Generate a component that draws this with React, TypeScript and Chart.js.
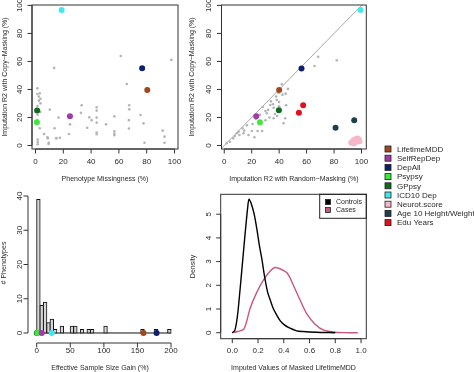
import React, { useEffect, useRef } from "react";
import { Chart, registerables } from "chart.js";
Chart.register(...registerables);

const FONT = '"Liberation Sans", Arial, Helvetica, sans-serif';
const TXT = "#2a2a2a";
const AXC = "#333333";
const GRAY = "#b4b4b4";

// ---------- key (legend) ----------
const keyNames = ["LifetimeMDD", "SelfRepDep", "DepAll", "Psypsy", "GPpsy", "ICD10 Dep", "Neurot.score", "Age 10 Height/Weight", "Edu Years"];
const keyColors = ["#a3461c", "#a33aa8", "#0f1f6e", "#3fe83f", "#0d6b1c", "#44e6f0", "#f5b7c9", "#203f4e", "#e0101f"];

// ---------- panel 1: missingness vs copy-masking R2 ----------
const p1Gray: [number, number][] = [
  [61.3, 63.9], [97.7, 61.1], [13.4, 55.4], [65.7, 43.9], [1.4, 40.8], [1.4, 36.8], [3.1, 37.3], [2.4, 34.9],
  [3.6, 33.4], [2.4, 32], [3.6, 30.1], [1.4, 28.2], [10.3, 25.6], [33.2, 28.7], [44, 27.3], [44, 24.9],
  [32.7, 23.3], [67.4, 28.7], [67.4, 25.8], [16.6, 19.9], [38.7, 20.1], [40.4, 18.1], [44, 19.9], [56.7, 20.8],
  [75.5, 21.8], [24.8, 15.1], [44, 16.3], [50.8, 15.1], [67.2, 18.1], [77.7, 15.8], [3.1, 12.3], [13.7, 12.3],
  [37.2, 12.7], [67.2, 12.1], [91.5, 10.6], [6.2, 8.2], [24.1, 8.2], [44, 9.3], [44, 8], [56.7, 10.2],
  [56.7, 8.5], [56.7, 7.3], [92.8, 6.3], [8.6, 5.8], [15.1, 5.3], [17.6, 5.5], [1.6, 4.3], [1.6, 2.6],
  [1.6, 0.9], [9.4, 1.1], [78.4, 2], [92.8, 2], [8.9, 5.1], [9.6, 2], [14.9, 5.1], [1.5, 22], [1.5, 18], [3.5, 24],
];
const p1Key = ["LifetimeMDD", "SelfRepDep", "DepAll", "Psypsy", "GPpsy", "ICD10 Dep"];
const p1KeyX = [80.4, 24.8, 76.7, 1.0, 1.2, 18.8];
const p1KeyY = [39.6, 20.9, 55.1, 16.6, 24.9, 96.8];

// ---------- panel 2: random-masking vs copy-masking R2 ----------
const p2Gray: [number, number][] = [
  [68.4, 63.4], [82, 60.9], [65.8, 56.8], [42, 43.7], [46.4, 40.4], [44.7, 37], [42.5, 36.3], [37.8, 34.9],
  [38.3, 32.5], [40, 31], [33.5, 28.9], [45.1, 28.7], [35.5, 29.5], [32, 25.4], [30, 24.6], [36, 27],
  [37, 22.5], [38.5, 21], [36, 19.5], [44.4, 19.4], [43.2, 15.9], [20.6, 15.4], [16.5, 14.4], [13.3, 12.3],
  [14.5, 10.6], [10.4, 9.9], [11.1, 7.5], [17.7, 7.5], [20.1, 10.4], [24.3, 10.4], [27.6, 10.4], [22, 5.9],
  [14, 8.7], [9.2, 8.7], [7.7, 6.8], [6.5, 5.1], [4.1, 2.7], [1.7, 1.6], [28, 27.5], [31, 23], [26, 22],
  [23, 19], [40, 28], [34, 31.5], [39.5, 37.5], [30, 18], [25, 16], [33, 20],
];
const p2Key = ["LifetimeMDD", "SelfRepDep", "DepAll", "Psypsy", "GPpsy", "ICD10 Dep",
  "Neurot.score", "Neurot.score", "Neurot.score", "Neurot.score", "Neurot.score", "Neurot.score", "Neurot.score", "Neurot.score",
  "Age 10 Height/Weight", "Age 10 Height/Weight", "Edu Years", "Edu Years"];
const p2KeyX = [40, 23.3, 56.3, 26, 39.8, 99.3, 92.5, 94, 95.5, 97, 98, 96, 94.5, 98.5, 94.7, 81.1, 57.5, 54.4];
const p2KeyY = [39.6, 20.9, 54.9, 16.6, 25.1, 96.8, 2, 3.5, 4.5, 5, 4.5, 2.5, 1.5, 3, 18, 12.7, 28.7, 23.4];

// ---------- panel 3: histogram of effective sample size gain ----------
const histBinStart = [0, 5, 10, 15, 20, 25, 30, 35, 40, 45, 50, 55, 60, 65, 70, 75, 80, 85, 90, 95,
  100, 105, 110, 115, 120, 125, 130, 135, 140, 145, 150, 155, 160, 165, 170, 175, 180, 185, 190, 195];
const histCounts = [39, 8, 9, 3, 4, 1, 0, 2, 0, 0, 2, 2, 0, 1, 0, 1, 1, 0, 0, 0,
  2, 0, 0, 0, 0, 0, 0, 0, 0, 0, 0, 1, 0, 0, 0, 1, 0, 0, 0, 1];
const p3Key = ["GPpsy", "Psypsy", "SelfRepDep", "ICD10 Dep", "LifetimeMDD", "DepAll"];
const p3KeyX = [0.2, 1.2, 7.5, 22.5, 159, 178.5];

// ---------- panel 4: density of imputed values ----------
const ctrlX = [0, 0.02, 0.04, 0.06, 0.08, 0.1, 0.12, 0.13, 0.15, 0.17, 0.19, 0.21, 0.23, 0.25, 0.275, 0.3, 0.32, 0.35, 0.373, 0.4, 0.44, 0.5, 0.55, 0.65, 0.8];
const ctrlY = [0, 0.1, 0.7, 1.8, 3.0, 4.2, 5.3, 5.63, 5.4, 5.0, 4.4, 3.7, 3.1, 2.4, 1.7, 1.3, 1.0, 0.7, 0.5, 0.35, 0.21, 0.08, 0.05, 0.02, 0.0];
const caseX = [0, 0.04, 0.09, 0.14, 0.19, 0.245, 0.295, 0.33, 0.36, 0.4, 0.425, 0.45, 0.477, 0.53, 0.58, 0.645, 0.71, 0.8, 0.9, 0.975];
const caseY = [0, 0.05, 0.15, 1.05, 1.7, 2.25, 2.6, 2.75, 2.72, 2.62, 2.53, 2.3, 1.97, 1.34, 0.78, 0.35, 0.11, 0.02, 0.0, 0.0];
const densLegend = ["Controls", "Cases"];
const densColors = ["#000000", "#c8587a"];

// ---------- tick labels ----------
const pctTicks = [0, 20, 40, 60, 80, 100];
const histXTicks = [0, 50, 100, 150, 200];
const histYTicks = [0, 10, 20, 30, 40];
const densXTicks = [0, 0.2, 0.4, 0.6, 0.8, 1.0];
const densXLabels = ["0.0", "0.2", "0.4", "0.6", "0.8", "1.0"];
const densYTicks = [0, 1, 2, 3, 4, 5];

const colorOf = (n: string) => keyColors[keyNames.indexOf(n)];

type AxCfg = {
  id: string; box: boolean;
  xTicks: number[]; xLabels: string[]; yTicks: number[]; yLabels: string[];
  xLabelY: number; yLabelX: number; xTitle: string; xTitleY: number; yTitle: string; yTitleX: number;
  xTitleCx?: number; yTitleCy?: number;
};

function rAxes(cfg: AxCfg) {
  return {
    id: cfg.id,
    afterDraw(chart: any) {
      const ctx = chart.ctx as CanvasRenderingContext2D;
      const xs = chart.scales.x, ys = chart.scales.y;
      const a = chart.chartArea;
      const TL = 4.5;
      ctx.save();
      ctx.strokeStyle = AXC;
      ctx.lineWidth = 1;
      if (cfg.box) ctx.strokeRect(a.left, a.top, a.right - a.left, a.bottom - a.top);
      const xp = cfg.xTicks.map((v) => xs.getPixelForValue(v));
      ctx.beginPath();
      ctx.moveTo(xp[0], a.bottom); ctx.lineTo(xp[xp.length - 1], a.bottom);
      xp.forEach((p) => { ctx.moveTo(p, a.bottom); ctx.lineTo(p, a.bottom + TL); });
      const yp = cfg.yTicks.map((v) => ys.getPixelForValue(v));
      ctx.moveTo(a.left, yp[0]); ctx.lineTo(a.left, yp[yp.length - 1]);
      yp.forEach((p) => { ctx.moveTo(a.left, p); ctx.lineTo(a.left - TL, p); });
      ctx.stroke();
      ctx.fillStyle = TXT;
      ctx.font = `8px ${FONT}`;
      ctx.textAlign = "center";
      ctx.textBaseline = "middle";
      xp.forEach((p, i) => ctx.fillText(cfg.xLabels[i], p, cfg.xLabelY));
      yp.forEach((p, i) => {
        ctx.save(); ctx.translate(cfg.yLabelX, p); ctx.rotate(-Math.PI / 2);
        ctx.fillText(cfg.yLabels[i], 0, 0); ctx.restore();
      });
      ctx.font = `7px ${FONT}`;
      const cx = cfg.xTitleCx ?? (a.left + a.right) / 2;
      ctx.fillText(cfg.xTitle, cx, cfg.xTitleY);
      const cy = cfg.yTitleCy ?? (a.top + a.bottom) / 2;
      ctx.save(); ctx.translate(cfg.yTitleX, cy); ctx.rotate(-Math.PI / 2);
      ctx.fillText(cfg.yTitle, 0, 0); ctx.restore();
      ctx.restore();
    },
  };
}

const keyLegend = {
  id: "keyLegend",
  afterDraw(chart: any) {
    const ctx = chart.ctx as CanvasRenderingContext2D;
    ctx.save();
    ctx.font = `8px ${FONT}`;
    ctx.textAlign = "left";
    ctx.textBaseline = "middle";
    keyNames.forEach((n, i) => {
      const y = 149 + i * 9.2;
      ctx.fillStyle = keyColors[i];
      ctx.fillRect(385, y - 3, 6, 6);
      ctx.strokeStyle = "#222";
      ctx.lineWidth = 0.8;
      ctx.strokeRect(385, y - 3, 6, 6);
      ctx.fillStyle = TXT;
      ctx.fillText(n, 397, y + 0.5);
    });
    ctx.restore();
  },
};

const densLegendPlugin = {
  id: "densLegend",
  afterDraw(chart: any) {
    const ctx = chart.ctx as CanvasRenderingContext2D;
    const a = chart.chartArea;
    ctx.save();
    ctx.strokeStyle = "#222";
    ctx.lineWidth = 1;
    const lx = 319.7;
    ctx.strokeRect(lx, a.top, a.right - lx, 24);
    ctx.font = `7px ${FONT}`;
    ctx.textAlign = "left";
    ctx.textBaseline = "middle";
    densLegend.forEach((n, i) => {
      const y = 202 + i * 8;
      ctx.fillStyle = densColors[i];
      ctx.fillRect(325.5, y - 2.5, 5, 5);
      ctx.strokeStyle = "#222";
      ctx.lineWidth = 0.8;
      ctx.strokeRect(325.5, y - 2.5, 5, 5);
      ctx.fillStyle = TXT;
      ctx.fillText(n, 336, y + 0.5);
    });
    ctx.restore();
  },
};

const W = 474, H = 372;
function pad(l: number, t: number, r: number, b: number) {
  return { left: l, top: t, right: W - r, bottom: H - b };
}
function baseOpts(padding: any, x: [number, number], y: [number, number]) {
  return {
    responsive: false,
    animation: false,
    devicePixelRatio: 1,
    events: [],
    layout: { padding, autoPadding: false },
    plugins: { legend: { display: false }, tooltip: { enabled: false } },
    scales: {
      x: { type: "linear", display: false, min: x[0], max: x[1], offset: false, grid: { offset: false } },
      y: { type: "linear", display: false, min: y[0], max: y[1], offset: false },
    },
  } as any;
}

const pctLabels = pctTicks.map(String);

function makeConfigs(): any[] {
  const c1 = {
    type: "scatter",
    data: {
      datasets: [
        {
          data: p1KeyX.map((x, i) => ({ x, y: p1KeyY[i] })),
          pointBackgroundColor: p1Key.map(colorOf), pointBorderWidth: 0, pointRadius: 3, order: 0,
        },
        { data: p1Gray.map(([x, y]) => ({ x, y })), pointBackgroundColor: GRAY, pointBorderWidth: 0, pointRadius: 1.3, order: 1 },
      ],
    },
    options: baseOpts(pad(32, 5, 178, 149), [-2.5, 102.5], [-2.5, 100.3]),
    plugins: [rAxes({
      id: "ax1", box: true, xTicks: pctTicks, xLabels: pctLabels, yTicks: pctTicks, yLabels: pctLabels,
      xLabelY: 162, yLabelX: 20, xTitle: "Phenotype Missingness (%)", xTitleY: 179,
      yTitle: "Imputation R2 with Copy\u2212Masking (%)", yTitleX: 5,
    })],
  };
  const c2 = {
    type: "scatter",
    data: {
      datasets: [
        {
          data: p2KeyX.map((x, i) => ({ x, y: p2KeyY[i] })),
          pointBackgroundColor: p2Key.map(colorOf), pointBorderWidth: 0, pointRadius: 3, order: 0,
        },
        { data: p2Gray.map(([x, y]) => ({ x, y })), pointBackgroundColor: GRAY, pointBorderWidth: 0, pointRadius: 1.3, order: 1 },
        {
          data: [{ x: -2, y: -2 }, { x: 100.3, y: 100.3 }], showLine: true, pointRadius: 0,
          borderColor: "#a8a8a8", borderWidth: 1, order: 2,
        },
      ],
    },
    options: baseOpts(pad(221.5, 5, 366.3, 149), [-2, 103.5], [-2.5, 100.3]),
    plugins: [rAxes({
      id: "ax2", box: true, xTicks: pctTicks, xLabels: pctLabels, yTicks: pctTicks, yLabels: pctLabels,
      xLabelY: 162, yLabelX: 209, xTitle: "Imputation R2 with Random\u2212Masking (%)", xTitleY: 179,
      yTitle: "Imputation R2 with Copy\u2212Masking (%)", yTitleX: 192,
    }), keyLegend],
  };
  const c3 = {
    type: "scatter",
    data: {
      datasets: [
        {
          type: "scatter",
          data: p3KeyX.map((x) => ({ x, y: 0 })),
          pointBackgroundColor: p3Key.map(colorOf), pointBorderWidth: 0, pointRadius: 3, order: 0,
        },
        {
          type: "bar",
          data: histBinStart.map((s, i) => ({ x: s + 2.5, y: histCounts[i] })),
          backgroundColor: "#d6d6d6", borderColor: "#111", borderWidth: 1, borderSkipped: false,
          barPercentage: 1, categoryPercentage: 1, inflateAmount: 0.5, order: 1,
        },
        {
          type: "scatter",
          data: [{ x: 0, y: 0 }, { x: 200, y: 0 }], showLine: true, pointRadius: 0,
          borderColor: "#111", borderWidth: 1, order: 2,
        },
      ],
    },
    options: baseOpts(pad(28, 194, 176, 343), [-12.96, 207.4], [-2.92, 40.58]),
    plugins: [rAxes({
      id: "ax3", box: false, xTicks: histXTicks, xLabels: histXTicks.map(String), yTicks: histYTicks, yLabels: histYTicks.map(String),
      xLabelY: 351, yLabelX: 20, xTitle: "Effective Sample Size Gain (%)", xTitleY: 368, xTitleCx: 100,
      yTitle: "# Phenotypes", yTitleX: 4, yTitleCy: 263,
    })],
  };
  const c4 = {
    type: "scatter",
    data: {
      datasets: [
        {
          data: ctrlX.map((x, i) => ({ x, y: ctrlY[i] })), showLine: true, pointRadius: 0,
          borderColor: densColors[0], borderWidth: 1.4, tension: 0.3,
        },
        {
          data: caseX.map((x, i) => ({ x, y: caseY[i] })), showLine: true, pointRadius: 0,
          borderColor: densColors[1], borderWidth: 1.4, tension: 0.3,
        },
      ],
    },
    options: baseOpts(pad(220.7, 194.3, 366.3, 338.7), [-0.09, 1.041], [-0.253, 5.84]),
    plugins: [rAxes({
      id: "ax4", box: true, xTicks: densXTicks, xLabels: densXLabels, yTicks: densYTicks, yLabels: densYTicks.map(String),
      xLabelY: 351, yLabelX: 208.3, xTitle: "Imputed Values of Masked LifetimeMDD", xTitleY: 368,
      yTitle: "Density", yTitleX: 193,
    }), densLegendPlugin],
  };
  return [c1, c2, c3, c4];
}

export default function App() {
  const refs = [useRef<HTMLCanvasElement>(null), useRef<HTMLCanvasElement>(null), useRef<HTMLCanvasElement>(null), useRef<HTMLCanvasElement>(null)];
  useEffect(() => {
    document.body.style.margin = "0";
    document.body.style.background = "#ffffff";
    const cfgs = makeConfigs();
    const charts = cfgs.map((c, i) => new Chart(refs[i].current as HTMLCanvasElement, c));
    return () => charts.forEach((ch) => ch.destroy());
  }, []);
  return (
    <div style={{ position: "relative", width: W, height: H, background: "#fff" }}>
      {refs.map((r, i) => (
        <canvas key={i} ref={r} width={W} height={H}
          style={{ position: "absolute", left: 0, top: 0, width: W, height: H }} />
      ))}
    </div>
  );
}
